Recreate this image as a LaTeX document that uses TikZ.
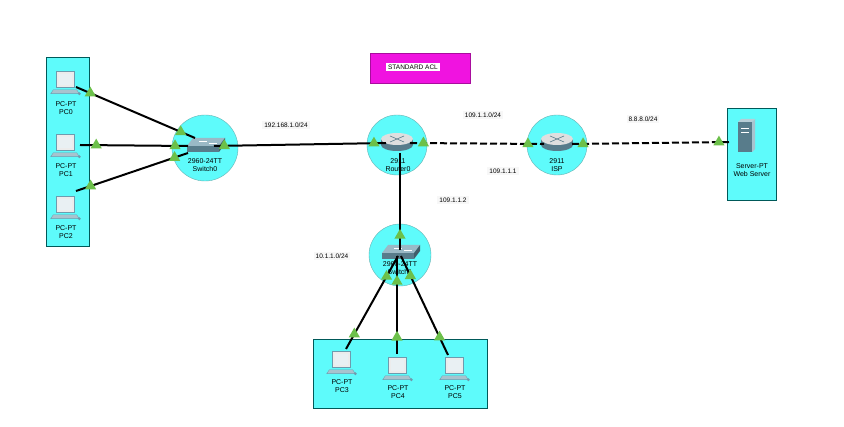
\documentclass[tikz,border=0pt]{standalone}
\usepackage{fontspec}
\setmainfont{Liberation Sans}
\usetikzlibrary{shapes.geometric}
\definecolor{aqua}{HTML}{5EFBFB}
\definecolor{dev}{HTML}{6E9BAE}
\definecolor{tri}{HTML}{6CC04A}
\definecolor{mag}{HTML}{F013E0}
\begin{document}
\begin{tikzpicture}[x=1pt,y=-1pt,
  lbl/.style={font=\fontsize{7}{8}\selectfont,inner sep=1pt,align=center},
  net/.style={font=\fontsize{6.5}{7}\selectfont,fill=gray!6,inner sep=2pt},
  zone/.style={draw=teal!70!black,fill=aqua,line width=0.6pt},
  dev circle/.style={circle,draw=teal!60,fill=aqua,minimum size=#1},
  link/.style={line width=2pt},
  dlink/.style={line width=2pt,dash pattern=on 7pt off 3pt},
  tri/.style={regular polygon,regular polygon sides=3,fill=tri,inner sep=0pt,minimum size=13pt},
  pc/.pic={\begin{scope}[scale=1.3]
    \draw[dev,line width=0.6pt,fill=gray!15] (-7,-8) rectangle (7,4);
    \fill[white!85!dev] (-5,-6) rectangle (5,2);
    \draw[dev,fill=dev!60] (-9,6) -- (9,6) -- (11,9) -- (-11,9) -- cycle;
    \fill[dev] (11,9) circle (1.2);\end{scope}}
]
\useasboundingbox (0,0) rectangle (844,427);
\fill[white] (0,0) rectangle (844,427);
% zones
\draw[zone] (46,57) rectangle (89,246);
\draw[zone] (313,339) rectangle (487,408);
\draw[zone] (727,108) rectangle (776,200);
\fill[mag] (370,53) rectangle (470,83);
\draw[mag!70!black] (370,53) rectangle (470,83);
\node[fill=white,inner sep=2pt,font=\fontsize{6.5}{7}\selectfont] (acl) at (413,67) {STANDARD ACL};
% circles
\node[dev circle=66pt] (sw0) at (205,148) {};
\node[dev circle=60pt] (r0) at (397,145) {};
\node[dev circle=60pt] (isp) at (557,145) {};
\node[dev circle=62pt] (sw1) at (400,255) {};
% switch icons
\foreach \c in {sw0,sw1}{
  \begin{scope}[shift={(\c)}]
  \fill[dev!70!white] (-12,-10) -- (20,-10) -- (14,-2) -- (-18,-2) -- cycle;
  \fill[dev!80!black] (-18,-2) rectangle (14,4);
  \fill[dev!60!black] (14,-2) -- (20,-10) -- (20,-4) -- (14,4) -- cycle;
  \draw[white,line width=0.4pt] (-6,-7) -- (2,-7) (4,-5) -- (12,-5);
  \end{scope}}
% router icons
\foreach \c in {r0,isp}{
  \begin{scope}[shift={(\c)}]
  \fill[dev!80!black] (-16,-6) rectangle (16,0);
  \fill[dev!80!black] (0,0) ellipse (16 and 6);
  \fill[gray!25] (0,-6) ellipse (16 and 6);
  \draw[dev!80!black,line width=0.6pt] (-7,-9) -- (7,-3) (-7,-3) -- (7,-9);
  \end{scope}}
% server icon
\fill[dev!80!black] (738,122) rectangle (752,152);
\fill[dev!60!white] (752,122) -- (755,119) -- (755,149) -- (752,152) -- cycle;
\fill[dev!50!white] (738,122) -- (741,119) -- (755,119) -- (752,122) -- cycle;
\draw[white] (741,128) -- (749,128) (741,132) -- (749,132);
% PCs
\pic at (65,82) {pc};
\pic at (65,145) {pc};
\pic at (65,207) {pc};
\pic at (341,362) {pc};
\pic at (397,368) {pc};
\pic at (454,368) {pc};
% labels
\node[lbl] (l0) at (66,108) {PC-PT\\PC0};
\node[lbl] (l1) at (66,170) {PC-PT\\PC1};
\node[lbl] (l2) at (66,232) {PC-PT\\PC2};
\node[lbl] (l3) at (342,386) {PC-PT\\PC3};
\node[lbl] (l4) at (398,392) {PC-PT\\PC4};
\node[lbl] (l5) at (455,392) {PC-PT\\PC5};
\node[lbl] (ls0) at (205,165) {2960-24TT\\Switch0};
\node[lbl] (lr0) at (398,165) {2911\\Router0};
\node[lbl] (lisp) at (557,165) {2911\\ISP};
\node[lbl] (ls1) at (400,268) {2960-24TT\\Switch1};
\node[lbl] (lsrv) at (752,170) {Server-PT\\Web Server};
% network labels
\node[net] (n1) at (286,125) {192.168.1.0/24};
\node[net] (n2) at (483,115) {109.1.1.0/24};
\node[net] (n3) at (503,171) {109.1.1.1};
\node[net] (n4) at (453,200) {109.1.1.2};
\node[net] (n5) at (643,119) {8.8.8.0/24};
\node[net] (n6) at (332,256) {10.1.1.0/24};
% endpoints
\coordinate (p0) at (76,87); \coordinate (p1) at (80,145); \coordinate (p2) at (76,191);
\coordinate (s0a) at (195,138); \coordinate (s0b) at (188,146); \coordinate (s0c) at (188,153);
\coordinate (s0r) at (214,146); \coordinate (r0l) at (386,143); \coordinate (r0r) at (410,143);
\coordinate (r0d) at (400,153); \coordinate (ispl) at (544,144); \coordinate (ispr) at (572,144);
\coordinate (srv) at (730,142); \coordinate (s1u) at (400,250);
\coordinate (s1a) at (398,256); \coordinate (s1b) at (397,256); \coordinate (s1c) at (401,256);
\coordinate (p3) at (346,349); \coordinate (p4) at (397,354); \coordinate (p5) at (448,355);
% links
\draw[link] (p0) -- (s0a) node[tri,pos=0.12]{} node[tri,pos=0.88]{};
\draw[link] (p1) -- (s0b) node[tri,pos=0.15]{} node[tri,pos=0.88]{};
\draw[link] (p2) -- (s0c) node[tri,pos=0.13]{} node[tri,pos=0.88]{};
\draw[link] (s0r) -- (r0l) node[tri,pos=0.06]{} node[tri,pos=0.93]{};
\draw[dlink] (r0r) -- (ispl) node[tri,pos=0.1]{} node[tri,pos=0.88]{};
\draw[dlink] (ispr) -- (srv) node[tri,pos=0.07]{} node[tri,pos=0.93]{};
\draw[link] (r0d) -- (s1u) node[tri,pos=0.85]{};
\draw[link] (s1a) -- (p3) node[tri,pos=0.22]{} node[tri,pos=0.84]{};
\draw[link] (s1b) -- (p4) node[tri,pos=0.26]{} node[tri,pos=0.83]{};
\draw[link] (s1c) -- (p5) node[tri,pos=0.2]{} node[tri,pos=0.82]{};
\end{tikzpicture}
\end{document}
